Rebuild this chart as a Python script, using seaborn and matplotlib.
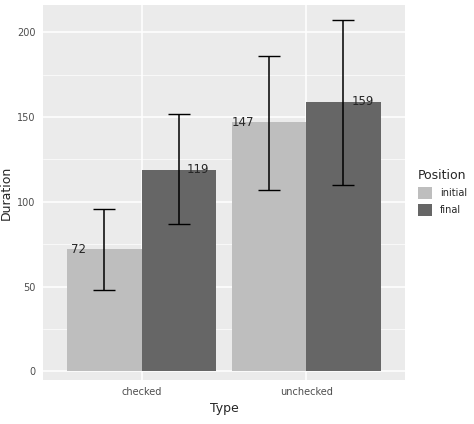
import numpy as np
import pandas as pd
import matplotlib
matplotlib.use("Agg")
import matplotlib.pyplot as plt
import seaborn as sns

types = ["checked", "unchecked"]
positions = ["initial", "final"]
duration = [[72, 119], [147, 159]]
err_low = [[48, 87], [107, 110]]
err_high = [[96, 152], [186, 207]]
colors = ["#BEBEBE", "#666666"]

rows = []
for i, t in enumerate(types):
    for j, p in enumerate(positions):
        rows.append({"Type": t, "Position": p, "Duration": duration[i][j]})
df = pd.DataFrame(rows)

sns.set_style("darkgrid", {"axes.facecolor": "#EBEBEB", "grid.color": "white"})
fig = plt.figure(figsize=(4.74, 4.24), dpi=100)
ax = fig.add_axes([0.09, 0.104, 0.765, 0.884])

sns.barplot(data=df, x="Type", y="Duration", hue="Position", palette=colors,
            errorbar=None, width=0.9, ax=ax, saturation=1, zorder=2, linewidth=0)

w = 0.45
for i in range(len(types)):
    for j in range(len(positions)):
        xc = i + (j - 0.5) * w
        d = duration[i][j]
        ax.errorbar(xc, d, yerr=[[d - err_low[i][j]], [err_high[i][j] - d]],
                    fmt="none", ecolor="black", elinewidth=1.1, capsize=8, zorder=3)
        off = -0.16 if j == 0 else 0.12
        ax.text(xc + off, d, str(d), ha="center", va="center", fontsize=8.5, zorder=4)

ax.set_xlim(-0.6, 1.6)
ax.set_ylim(-5, 216)
ax.set_yticks([0, 50, 100, 150, 200])
ax.set_yticks([25, 75, 125, 175], minor=True)
ax.grid(which="minor", axis="y", color="white", linewidth=0.5)
ax.grid(which="major", color="white", linewidth=1.1)
for s in ax.spines.values():
    s.set_visible(False)
ax.tick_params(axis="both", labelsize=7, colors="#4D4D4D", length=3, which="major", pad=2)
ax.tick_params(which="minor", length=0)
ax.set_xlabel("Type", fontsize=9)
ax.set_ylabel("Duration", fontsize=9, labelpad=3)

leg = ax.legend(title="Position", loc="center left", bbox_to_anchor=(1.01, 0.5),
                frameon=False, fontsize=7, title_fontsize=9, handlelength=1.5,
                handleheight=1.5)
leg._legend_box.align = "left"

fig.savefig("out.png", dpi=100)
